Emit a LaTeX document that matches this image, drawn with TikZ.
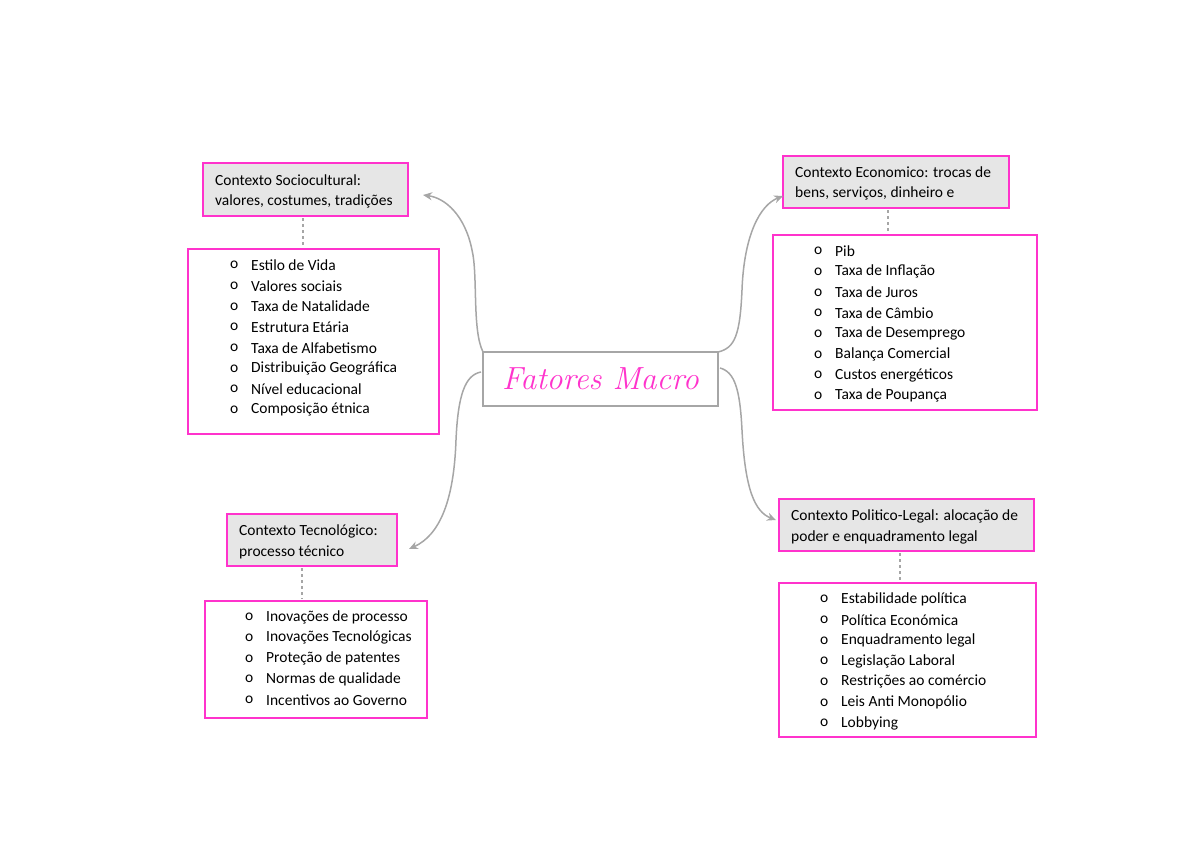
\documentclass[tikz,border=0pt]{standalone}
\usepackage{fontspec}
\setmainfont{Carlito}
\usetikzlibrary{arrows.meta}
\definecolor{mag}{HTML}{FF33CC}
\definecolor{hdr}{HTML}{E6E6E6}
\definecolor{con}{HTML}{A6A6A6}
\tikzset{
 hbox/.style={draw=mag,line width=1.6pt,fill=hdr},
 lbox/.style={draw=mag,line width=1.6pt},
 txt/.style={anchor=west,inner sep=0pt,font=\fontsize{15.5}{18}\selectfont},
 conn/.style={draw=con,line width=1.5pt,-{Stealth[length=9pt,width=8pt]}},
 dsh/.style={draw=con,line width=1.2pt,dashed}
}
\newcommand{\mylist}[4]{% prefix, bulletx, starty, list
 \foreach \t [count=\i] in {#4}{
  \node[txt] (#1b\i) at (#2,{#3+(\i-1)*20.7}) {o};
  \node[txt] (#1t\i) at ({#2+21},{#3+(\i-1)*20.7}) {\t};
 }}
\begin{document}
\begin{tikzpicture}[x=1pt,y=-1pt]
\useasboundingbox (0,0) rectangle (1200,849);
% center
\draw[con,line width=1.5pt,fill=white] (483,352) rectangle (718,406);
\node (c) at (600.5,379) {\fontsize{32}{36}\selectfont\color{mag}\textit{\fontspec{Latin Modern Roman}Fatores Macro}};
\coordinate (cTL) at (483,352); \coordinate (cL) at (481,372);
\coordinate (cTR) at (718,352); \coordinate (cR) at (720,368);
% socio
\draw[hbox] (203,163) rectangle (408,216);
\node[txt] (s1) at (215,180) {Contexto Sociocultural:};
\node[txt] (s2) at (215,201) {valores, costumes, tradições};
\draw[lbox] (188,249) rectangle (439,434);
\mylist{s}{230}{265}{Estilo de Vida,Valores sociais,Taxa de Natalidade,Estrutura Etária,Taxa de Alfabetismo,Distribuição Geográfica,Nível educacional,Composição étnica}
\draw[dsh] (303,218) -- (303,247);
\coordinate (sa) at (423,195);
\draw[conn] (cTL) .. controls (472,330) and (478,275) .. (472,250) .. controls (465,215) and (445,198) .. (sa);
% eco
\draw[hbox] (783,156) rectangle (1009,208);
\node[txt] (e1) at (795,172) {Contexto Economico: trocas de};
\node[txt] (e2) at (795,193) {bens, serviços, dinheiro e};
\draw[lbox] (773,235) rectangle (1037,410);
\mylist{e}{814}{251}{Pib,Taxa de Inflação,Taxa de Juros,Taxa de Câmbio,Taxa de Desemprego,Balança Comercial,Custos energéticos,Taxa de Poupança}
\draw[dsh] (888,210) -- (888,233);
\coordinate (ea) at (783,196);
\draw[conn] (cTR) .. controls (735,348) and (740,335) .. (742,290) .. controls (744,235) and (760,205) .. (ea);
% tech
\draw[hbox] (227,514) rectangle (397,566);
\node[txt] (t1) at (239,531) {Contexto Tecnológico:};
\node[txt] (t2) at (239,552) {processo técnico};
\draw[lbox] (205,601) rectangle (427,718);
\mylist{t}{245}{617}{Inovações de processo,Inovações Tecnológicas,Proteção de patentes,Normas de qualidade,Incentivos ao Governo}
\draw[dsh] (302,568) -- (302,599);
\coordinate (ta) at (409,549);
\draw[conn] (cL) .. controls (465,375) and (458,395) .. (456,440) .. controls (454,500) and (440,535) .. (ta);
% pol
\draw[hbox] (779,499) rectangle (1034,551);
\node[txt] (p1) at (791,516) {Contexto Politico-Legal: alocação de};
\node[txt] (p2) at (791,537) {poder e enquadramento legal};
\draw[lbox] (779,583) rectangle (1036,737);
\mylist{p}{820}{599}{Estabilidade política,Política Económica,Enquadramento legal,Legislação Laboral,Restrições ao comércio,Leis Anti Monopólio,Lobbying}
\draw[dsh] (900,553) -- (900,581);
\coordinate (pa) at (776,520);
\draw[conn] (cR) .. controls (735,372) and (740,390) .. (742,430) .. controls (745,490) and (755,512) .. (pa);
\end{tikzpicture}
\end{document}
